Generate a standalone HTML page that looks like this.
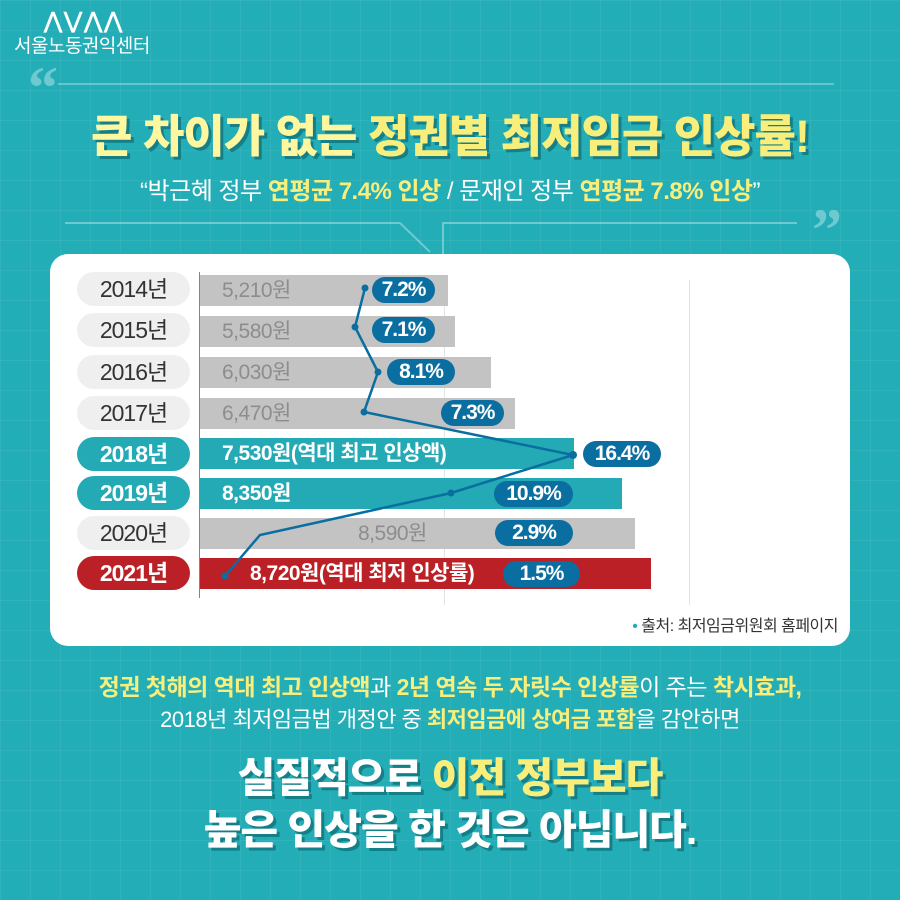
<!DOCTYPE html>
<html><head><meta charset="utf-8"><style>
body{margin:0;width:900px;height:900px;overflow:hidden;background:#23adb7;font-family:"Liberation Sans","Noto Sans CJK KR",sans-serif;position:relative}
.a{position:absolute;white-space:nowrap}
.grid{position:absolute;inset:0;background-image:linear-gradient(rgba(255,255,255,.06) 1px,transparent 1px),linear-gradient(90deg,rgba(255,255,255,.06) 1px,transparent 1px);background-size:30px 30px}
.y{color:#f8ee7c}
.t{font-weight:900;text-shadow:3px 3px 0 #157f88}
.card{position:absolute;left:50px;top:254px;width:800px;height:392px;background:#fff;border-radius:18px}
.pill{position:absolute;left:77px;width:113px;height:34px;border-radius:17px;background:#efefef;color:#333;font-size:23px;text-align:center;line-height:34px;letter-spacing:-1px}
.bar{position:absolute;left:200px;height:31px;background:#c3c3c3}
.v{position:absolute;left:222px;font-size:21px;color:#8d8d8d;line-height:31px;letter-spacing:-.5px}
.p{position:absolute;height:26px;border-radius:13px;background:#0a6ea0;color:#fff;font-weight:bold;font-size:21px;text-align:center;line-height:26px;letter-spacing:-1px}
</style></head><body>
<div class="grid"></div>
<div class="a" style="left:44px;top:8px;color:#fff;font-size:22px;letter-spacing:2px;font-weight:bold">⋀⋁⋀⋀</div>
<div class="a" style="left:14px;top:31px;color:#fff;font-size:19px;letter-spacing:-.5px">서울노동권익센터</div>
<div class="a" style="left:28px;top:54px;color:rgba(255,255,255,.35);font-size:60px;font-weight:900;font-family:'Liberation Serif',serif">“</div>
<div class="a" style="left:58px;top:83px;width:776px;height:2px;background:rgba(255,255,255,.3)"></div>
<div class="a t y" style="left:0;width:900px;top:100px;text-align:center;font-size:45px;letter-spacing:-1px"><span style="color:#fff7a0">큰 차이가 없는</span> 정권별 최저임금 인상률!</div>
<div class="a" style="left:0;width:900px;top:171px;text-align:center;font-size:24px;color:#fff;letter-spacing:-.5px">“박근혜 정부 <b class="y">연평균 7.4% 인상</b> / 문재인 정부 <b class="y">연평균 7.8% 인상</b>”</div>
<svg class="a" style="left:0;top:0" width="900" height="260"><polyline points="65,223 400,223 430,252" fill="none" stroke="rgba(255,255,255,.35)" stroke-width="2"/><polyline points="443,255 443,223 797,223" fill="none" stroke="rgba(255,255,255,.35)" stroke-width="2"/></svg>
<div class="a" style="left:812px;top:196px;color:rgba(255,255,255,.35);font-size:60px;font-weight:900;font-family:'Liberation Serif',serif">”</div>
<div class="card"></div>
<div class="a" style="left:444px;top:280px;width:1px;height:325px;background:#e3e3e3"></div>
<div class="a" style="left:689px;top:280px;width:1px;height:325px;background:#e3e3e3"></div>
<div class="a" style="left:199px;top:272px;width:1px;height:326px;background:#2aa9b3"></div>

<div class="pill" style="top:272px">2014년</div>
<div class="pill" style="top:313px">2015년</div>
<div class="pill" style="top:355px">2016년</div>
<div class="pill" style="top:396px">2017년</div>
<div class="pill" style="top:437px;background:#23aab5;color:#fff;font-weight:bold">2018년</div>
<div class="pill" style="top:476px;background:#23aab5;color:#fff;font-weight:bold">2019년</div>
<div class="pill" style="top:516px">2020년</div>
<div class="pill" style="top:556px;background:#ba2025;color:#fff;font-weight:bold">2021년</div>

<div class="bar" style="top:275px;width:248px"></div><div class="v" style="top:275px">5,210원</div>
<div class="bar" style="top:316px;width:255px"></div><div class="v" style="top:316px">5,580원</div>
<div class="bar" style="top:357px;width:291px"></div><div class="v" style="top:357px">6,030원</div>
<div class="bar" style="top:398px;width:315px"></div><div class="v" style="top:398px">6,470원</div>
<div class="bar" style="top:438px;width:374px;background:#23aab5"></div><div class="v" style="top:438px;color:#fff;font-weight:bold">7,530원(역대 최고 인상액)</div>
<div class="bar" style="top:478px;width:422px;background:#23aab5"></div><div class="v" style="top:478px;color:#fff;font-weight:bold">8,350원</div>
<div class="bar" style="top:518px;width:435px"></div><div class="v" style="top:518px;left:358px">8,590원</div>
<div class="bar" style="top:558px;width:451px;background:#ba2025"></div><div class="v" style="top:558px;left:250px;color:#fff;font-weight:bold">8,720원(역대 최저 인상률)</div>

<svg class="a" style="left:0;top:0" width="900" height="900"><polyline points="365,288 355,327 378,372 364,412 573,455 451,493 260,535 225,576" fill="none" stroke="#0a6ea0" stroke-width="2.5"/><g fill="#0a6ea0"><circle cx="365" cy="288" r="3.5"/><circle cx="355" cy="327" r="3.5"/><circle cx="378" cy="372" r="3.5"/><circle cx="364" cy="412" r="3.5"/><circle cx="573" cy="455" r="4"/><circle cx="451" cy="493" r="3.5"/><circle cx="225" cy="576" r="3.5"/></g></svg>
<div class="p" style="left:372px;top:277px;width:63px">7.2%</div>
<div class="p" style="left:372px;top:317px;width:63px">7.1%</div>
<div class="p" style="left:387px;top:359px;width:68px">8.1%</div>
<div class="p" style="left:441px;top:400px;width:63px">7.3%</div>
<div class="p" style="left:583px;top:441px;width:78px">16.4%</div>
<div class="p" style="left:494px;top:481px;width:79px">10.9%</div>
<div class="p" style="left:495px;top:520px;width:78px">2.9%</div>
<div class="p" style="left:503px;top:561px;width:77px">1.5%</div>
<div class="a" style="right:62px;top:612px;font-size:16px;color:#333;letter-spacing:-.5px"><span style="color:#23aab5">•</span> 출처: 최저임금위원회 홈페이지</div>

<div class="a" style="left:0;width:900px;top:668px;text-align:center;font-size:23px;color:#fff;letter-spacing:-.5px"><b class="y">정권 첫해의 역대 최고 인상액</b>과 <b class="y">2년 연속 두 자릿수 인상률</b>이 주는 <b class="y">착시효과,</b></div>
<div class="a" style="left:0;width:900px;top:702px;text-align:center;font-size:22px;color:#fff;letter-spacing:-.5px">2018년 최저임금법 개정안 중 <b class="y">최저임금에 상여금 포함</b>을 감안하면</div>
<div class="a t" style="left:0;width:900px;top:744px;text-align:center;font-size:41px;color:#fff;letter-spacing:-1px">실질적으로 <span class="y">이전 정부보다</span></div>
<div class="a t" style="left:0;width:900px;top:796px;text-align:center;font-size:41px;color:#fff;letter-spacing:-1px">높은 인상을 한 것은 아닙니다.</div>
</body></html>
